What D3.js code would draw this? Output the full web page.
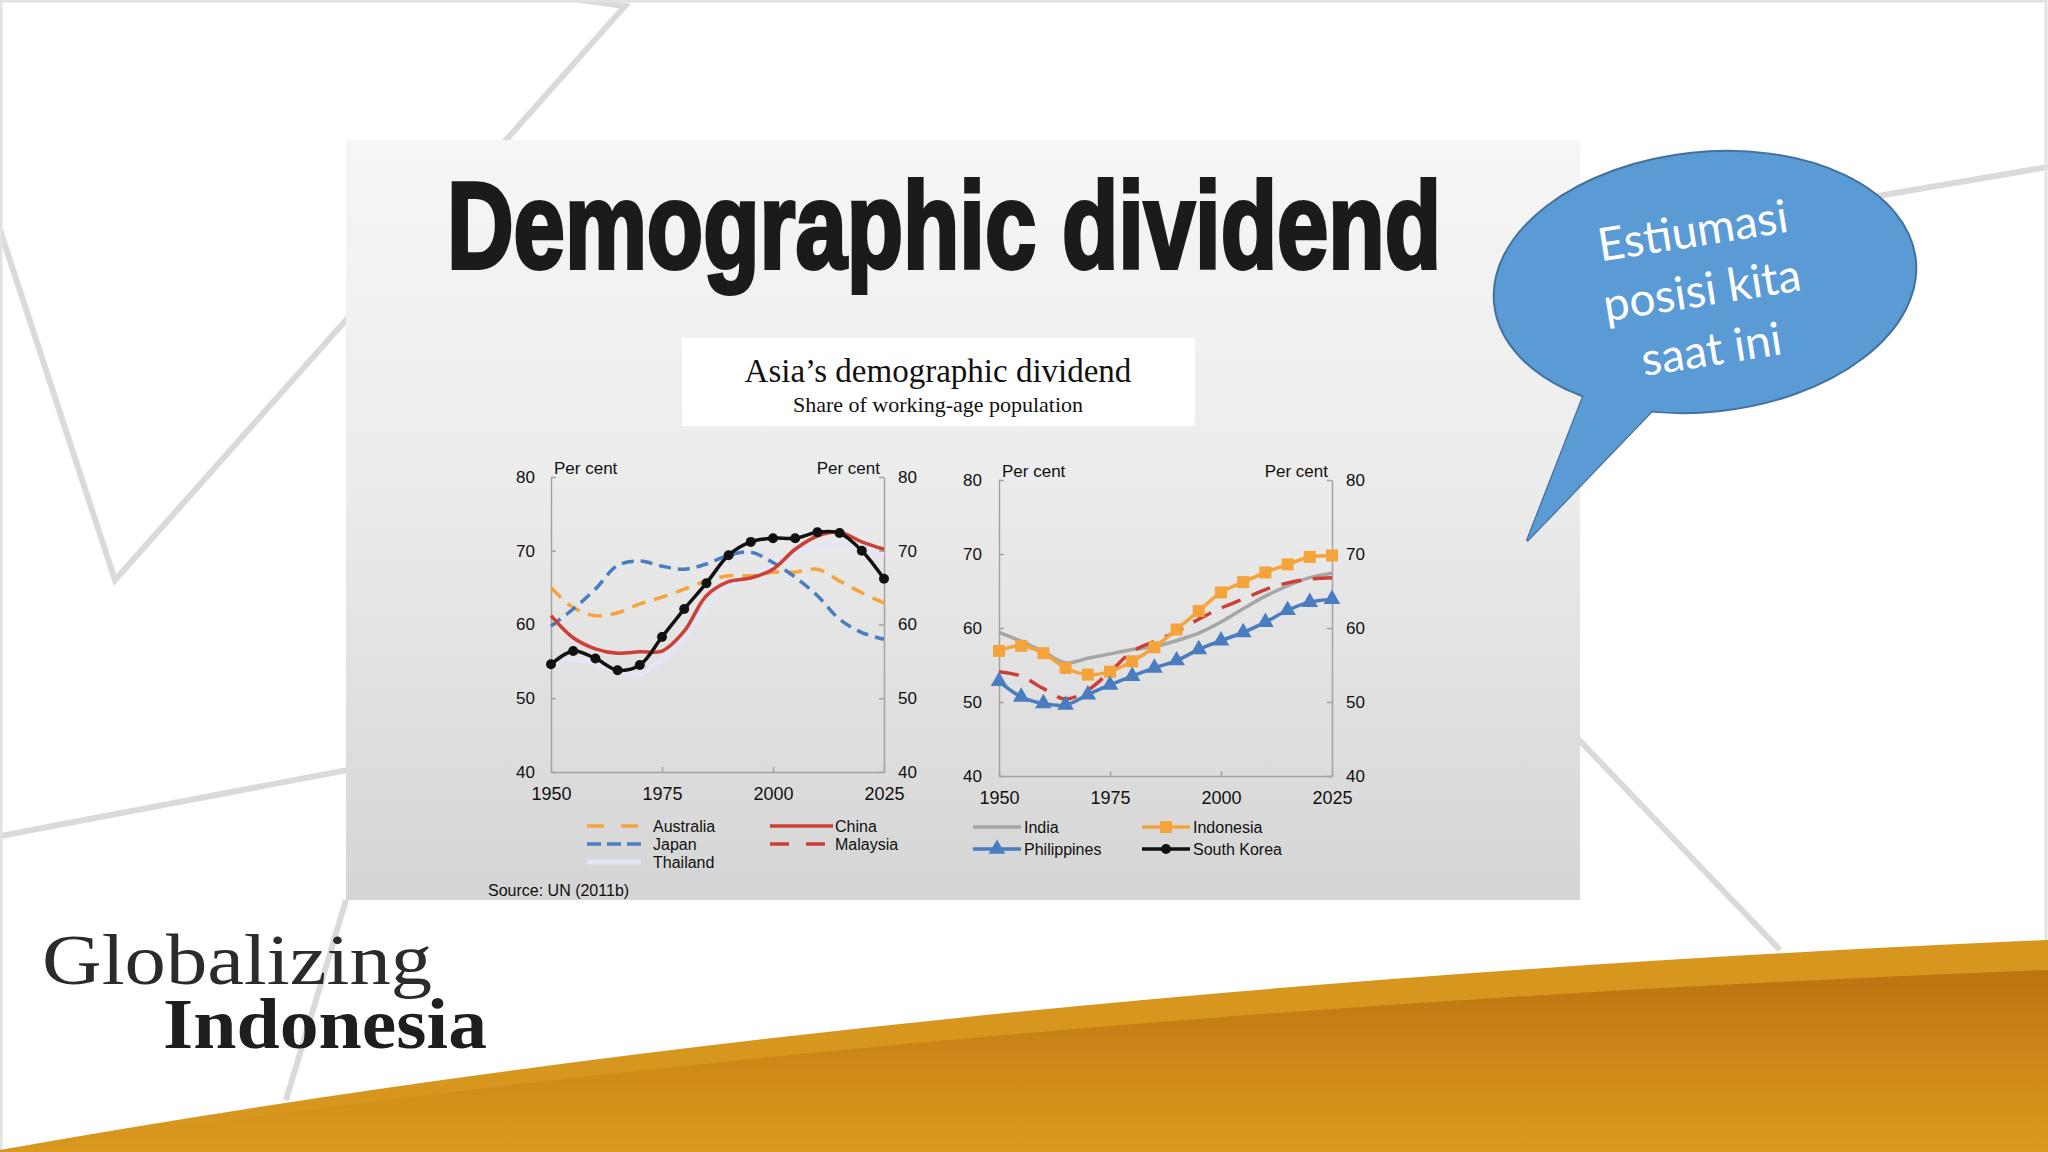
<!DOCTYPE html>
<html>
<head>
<meta charset="utf-8">
<script src="https://cdn.jsdelivr.net/npm/d3@7"></script>
<style>
  body { margin: 0; background: #fff; }
  svg { display: block; }
</style>
</head>
<body>
<svg id="slide" width="2048" height="1152"></svg>
<script>
// ---- data ----
const years = [1950, 1955, 1960, 1965, 1970, 1975, 1980, 1985, 1990, 1995, 2000, 2005, 2010, 2015, 2020, 2025];
const yTicks = [40, 50, 60, 70, 80];
const xTicks = [1950, 1975, 2000, 2025];

// left panel
const australia  = [65.0, 62.3, 61.2, 61.6, 62.8, 63.7, 64.8, 65.9, 66.6, 66.6, 67.1, 67.1, 67.5, 65.9, 64.3, 62.9];
const japan      = [59.8, 62.1, 64.8, 68.0, 68.6, 67.9, 67.5, 68.2, 69.4, 69.8, 68.4, 66.4, 63.9, 60.7, 58.9, 58.0];
const china      = [61.2, 58.2, 56.7, 56.1, 56.3, 56.4, 59.1, 63.9, 65.8, 66.3, 67.5, 70.2, 72.0, 72.5, 71.2, 70.2];
const thailand   = [54.6, 55.3, 54.8, 53.7, 53.3, 55.3, 58.2, 62.5, 65.2, 66.4, 68.2, 69.8, 70.7, 70.9, 70.2, 69.3];
const southKorea = [54.6, 56.4, 55.4, 53.8, 54.5, 58.3, 62.1, 65.6, 69.4, 71.2, 71.7, 71.7, 72.5, 72.4, 70.0, 66.2];

// right panel
const india       = [59.4, 58.2, 56.8, 55.3, 55.9, 56.5, 57.1, 57.5, 58.3, 59.3, 60.8, 62.6, 64.3, 65.7, 66.8, 67.4];
const malaysia    = [54.1, 53.5, 51.8, 50.4, 51.6, 54.1, 56.8, 58.2, 59.5, 61.2, 62.7, 63.9, 65.2, 66.1, 66.6, 66.8];
const indonesia   = [56.9, 57.6, 56.6, 54.6, 53.7, 54.1, 55.5, 57.4, 59.8, 62.3, 64.8, 66.2, 67.5, 68.6, 69.6, 69.8];
const philippines = [52.8, 50.7, 49.8, 49.6, 51.0, 52.3, 53.5, 54.6, 55.6, 57.1, 58.3, 59.4, 60.8, 62.4, 63.5, 63.9];

const leftLegendNames  = [['Australia', 'Japan', 'Thailand'], ['China', 'Malaysia']];
const rightLegendNames = [['India', 'Philippines'], ['Indonesia', 'South Korea']];

// ---- styles ----
const ORANGE = '#f5a43c', BLUE = '#4a7dc0', RED = '#cc3f36', GREY = '#a6a6a6', LAVENDER = '#e4e6f6';
const style = {
  'Australia':   { color: ORANGE,   width: 3.5, dash: '14,9',  legendDash: '17,17' },
  'Japan':       { color: BLUE,     width: 3.5, dash: '12,7',  legendDash: '14,6' },
  'Thailand':    { color: LAVENDER, width: 5 },
  'China':       { color: RED,      width: 3.5 },
  'Malaysia':    { color: RED,      width: 3.5, dash: '20,12', legendDash: '19,17' },
  'South Korea': { color: '#111',   width: 3.5, marker: 'circle' },
  'India':       { color: GREY,     width: 3.5 },
  'Indonesia':   { color: ORANGE,   width: 3.5, marker: 'square' },
  'Philippines': { color: BLUE,     width: 3.5, marker: 'triangle' }
};
const SANS = "'Liberation Sans', Arial, sans-serif";

const svg = d3.select('#slide');
const defs = svg.append('defs');

const panelGrad = defs.append('linearGradient').attr('id', 'panelGrad')
  .attr('x1', 0).attr('y1', 0).attr('x2', 0).attr('y2', 1);
panelGrad.append('stop').attr('offset', 0).attr('stop-color', '#f6f6f6');
panelGrad.append('stop').attr('offset', 0.45).attr('stop-color', '#ececec');
panelGrad.append('stop').attr('offset', 1).attr('stop-color', '#d5d5d5');

const goldGrad = defs.append('linearGradient').attr('id', 'goldGrad')
  .attr('x1', 0).attr('y1', 0).attr('x2', 0).attr('y2', 1);
goldGrad.append('stop').attr('offset', 0).attr('stop-color', '#bd7311');
goldGrad.append('stop').attr('offset', 0.55).attr('stop-color', '#cf8a19');
goldGrad.append('stop').attr('offset', 1).attr('stop-color', '#d99a1e');

// ---- slide background ----
svg.append('rect').attr('width', 2048).attr('height', 1152).attr('fill', '#fff');

const bgLines = [
  [[0, 230], [115, 580], [625, 6], [580, 0]],
  [[0, 836], [400, 760]],
  [[346, 900], [286, 1100]],
  [[1560, 720], [1780, 950]],
  [[1560, 250], [2048, 167]]
];
svg.append('g').selectAll('path').data(bgLines).join('path')
  .attr('d', d3.line())
  .attr('fill', 'none').attr('stroke', '#dadada').attr('stroke-width', 6);

svg.append('rect').attr('x', 1).attr('y', 1).attr('width', 2045).attr('height', 1150)
  .attr('fill', 'none').attr('stroke', '#e2e2e2').attr('stroke-width', 3);

// gold band
svg.append('path')
  .attr('d', 'M0,1152 L0,1150 Q900,990 2048,940 L2048,1152 Z')
  .attr('fill', '#d7961d');
svg.append('path')
  .attr('d', 'M0,1152 L0,1152 Q950,1012 2048,970 L2048,1152 Z')
  .attr('fill', 'url(#goldGrad)');

// logo
svg.append('text').attr('x', 42).attr('y', 984)
  .attr('font-family', "'Liberation Serif', serif").attr('font-size', 72)
  .attr('fill', '#2b2b2b').attr('textLength', 390).attr('lengthAdjust', 'spacingAndGlyphs')
  .text('Globalizing');
svg.append('text').attr('x', 163).attr('y', 1048)
  .attr('font-family', "'Liberation Serif', serif").attr('font-size', 72).attr('font-weight', 'bold')
  .attr('fill', '#1e1e1e').attr('textLength', 324).attr('lengthAdjust', 'spacingAndGlyphs')
  .text('Indonesia');

// ---- picture panel ----
svg.append('rect').attr('x', 346).attr('y', 140).attr('width', 1234).attr('height', 760)
  .attr('fill', 'url(#panelGrad)');

svg.append('text').attr('x', 447).attr('y', 268)
  .attr('font-family', SANS).attr('font-weight', 'bold').attr('font-size', 123)
  .attr('fill', '#1b1b1b').attr('stroke', '#1b1b1b').attr('stroke-width', 4)
  .attr('textLength', 994).attr('lengthAdjust', 'spacingAndGlyphs')
  .text('Demographic dividend');

svg.append('rect').attr('x', 682).attr('y', 338).attr('width', 513).attr('height', 88).attr('fill', '#fff');
svg.append('text').attr('x', 938).attr('y', 382).attr('text-anchor', 'middle')
  .attr('font-family', "'Liberation Serif', serif").attr('font-size', 33).attr('fill', '#111')
  .text('Asia\u2019s demographic dividend');
svg.append('text').attr('x', 938).attr('y', 412).attr('text-anchor', 'middle')
  .attr('font-family', "'Liberation Serif', serif").attr('font-size', 22).attr('fill', '#111')
  .text('Share of working-age population');

// ---- charts ----
function drawMarker(g, type, cx, cy, color) {
  if (type === 'circle') {
    g.append('circle').attr('cx', cx).attr('cy', cy).attr('r', 5).attr('fill', color);
  } else if (type === 'square') {
    g.append('rect').attr('x', cx - 6).attr('y', cy - 6).attr('width', 12).attr('height', 12).attr('fill', color);
  } else if (type === 'triangle') {
    g.append('path').attr('transform', `translate(${cx},${cy})`)
      .attr('d', d3.symbol(d3.symbolTriangle, 120)()).attr('fill', color);
  }
}

function drawChart(plot, series) {
  const x = d3.scaleLinear().domain([1950, 2025]).range([plot.left, plot.right]);
  const y = d3.scaleLinear().domain([40, 80]).range([plot.bottom, plot.top]);
  const g = svg.append('g');

  const styleAxis = sel => {
    sel.select('.domain').attr('stroke', '#a3a3a3').attr('stroke-width', 1.5);
    sel.selectAll('.tick line').attr('stroke', '#a3a3a3').attr('stroke-width', 1.5);
    sel.selectAll('text').attr('font-family', SANS).attr('fill', '#111');
  };

  g.append('g').attr('transform', `translate(${plot.left},0)`)
    .call(d3.axisLeft(y).tickValues(yTicks).tickSizeInner(-5).tickSizeOuter(0).tickPadding(plot.padLeft))
    .call(styleAxis).call(s => s.selectAll('text').attr('font-size', 17));
  g.append('g').attr('transform', `translate(${plot.right},0)`)
    .call(d3.axisRight(y).tickValues(yTicks).tickSizeInner(-5).tickSizeOuter(0).tickPadding(14))
    .call(styleAxis).call(s => s.selectAll('text').attr('font-size', 17));
  g.append('g').attr('transform', `translate(0,${plot.bottom})`)
    .call(d3.axisBottom(x).tickValues(xTicks).tickFormat(d3.format('d')).tickSizeInner(-5).tickSizeOuter(0).tickPadding(15))
    .call(styleAxis).call(s => s.selectAll('text').attr('font-size', 18));

  g.append('text').attr('x', plot.left + 3).attr('y', plot.top - 3)
    .attr('font-family', SANS).attr('font-size', 17).attr('fill', '#111').text('Per cent');
  g.append('text').attr('x', plot.right - 4).attr('y', plot.top - 3).attr('text-anchor', 'end')
    .attr('font-family', SANS).attr('font-size', 17).attr('fill', '#111').text('Per cent');

  const line = d3.line()
    .x((d, i) => x(years[i]))
    .y(d => y(d))
    .curve(d3.curveCatmullRom.alpha(0.5));

  series.forEach(([name, values]) => {
    const s = style[name];
    g.append('path').datum(values)
      .attr('d', line)
      .attr('fill', 'none')
      .attr('stroke', s.color)
      .attr('stroke-width', s.width)
      .attr('stroke-dasharray', s.dash || null)
      .attr('stroke-linejoin', 'round');
    if (s.marker) {
      values.forEach((v, i) => drawMarker(g, s.marker, x(years[i]), y(v), s.color));
    }
  });
}

drawChart({ left: 551, right: 884, top: 477, bottom: 772, padLeft: 16 }, [
  ['Thailand', thailand], ['Australia', australia], ['Japan', japan], ['China', china], ['South Korea', southKorea]
]);
drawChart({ left: 999, right: 1332, top: 480, bottom: 776, padLeft: 17 }, [
  ['India', india], ['Malaysia', malaysia], ['Indonesia', indonesia], ['Philippines', philippines]
]);

// ---- legends ----
// each column: [swatch start, swatch end, text x]
function drawLegend(columns, cols, rowY) {
  const g = svg.append('g');
  columns.forEach((names, c) => {
    names.forEach((name, r) => {
      const s = style[name];
      const [x0, x1, tx] = cols[c], yy = rowY[r];
      g.append('line').attr('x1', x0).attr('x2', x1).attr('y1', yy).attr('y2', yy)
        .attr('stroke', s.color).attr('stroke-width', s.width)
        .attr('stroke-dasharray', s.legendDash || null);
      if (s.marker) drawMarker(g, s.marker, (x0 + x1) / 2, yy, s.color);
      g.append('text').attr('x', tx).attr('y', yy + 5.5)
        .attr('font-family', SANS).attr('font-size', 16).attr('fill', '#111').text(name);
    });
  });
}
drawLegend(leftLegendNames, [[587, 641, 653], [770, 833, 835]], [826, 844, 862]);
drawLegend(rightLegendNames, [[973, 1021, 1024], [1142, 1190, 1193]], [827, 849]);

svg.append('text').attr('x', 488).attr('y', 896)
  .attr('font-family', SANS).attr('font-size', 16).attr('fill', '#111').text('Source: UN (2011b)');

// ---- callout ----
const tail = 'M1527,541 L1583,397 L1600,370 L1640,380 L1652,411 Z';
const callout = svg.append('g');
callout.append('path').attr('d', tail).attr('fill', '#5b9bd5').attr('stroke', '#41719c').attr('stroke-width', 2.5);
callout.append('ellipse').attr('cx', 1705).attr('cy', 282).attr('rx', 212).attr('ry', 130)
  .attr('transform', 'rotate(-6,1705,282)')
  .attr('fill', '#5b9bd5').attr('stroke', '#41719c').attr('stroke-width', 2);
callout.append('path').attr('d', tail).attr('fill', '#5b9bd5');

const bubbleText = callout.append('g').attr('transform', 'translate(1702,290) rotate(-9)');
['Estiumasi', 'posisi kita', 'saat ini'].forEach((t, i) => {
  bubbleText.append('text').attr('x', 0).attr('y', (i - 1) * 60 + 16)
    .attr('text-anchor', 'middle')
    .attr('font-family', "Lato, 'Open Sans', sans-serif").attr('font-size', 46)
    .attr('fill', '#fff').text(t);
});
</script>
</body>
</html>
